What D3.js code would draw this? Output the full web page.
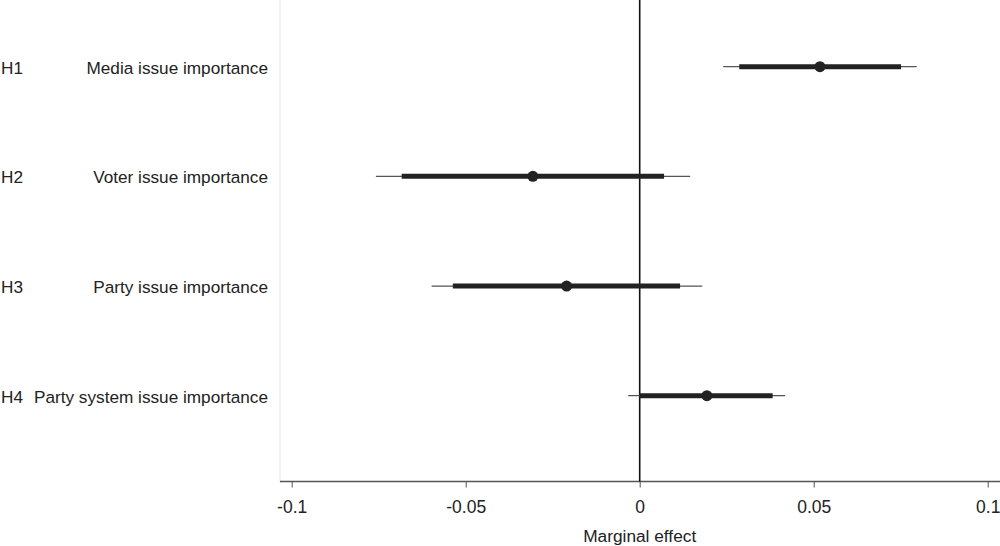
<!DOCTYPE html>
<html><head><meta charset="utf-8">
<script src="https://cdn.jsdelivr.net/npm/d3@7"></script>
<style>body{margin:0;background:#fff}svg{display:block}text{font-family:"Liberation Sans",Arial,sans-serif;fill:#222}</style>
</head><body><svg id="c" width="1000" height="546"></svg>
<script>
const hyp = ["H1","H2","H3","H4"];
const labels = ["Media issue importance","Voter issue importance","Party issue importance","Party system issue importance"];
const est = [0.0518,-0.0307,-0.0210,0.0193];
const ci90lo = [0.0286,-0.0684,-0.0537,0.0000];
const ci90hi = [0.0751,0.0070,0.0116,0.0382];
const ci95lo = [0.0240,-0.0758,-0.0598,-0.0033];
const ci95hi = [0.0796,0.0145,0.0180,0.0418];
const ticks = [-0.1,-0.05,0,0.05,0.1];
const tickLabels = ["-0.1","-0.05","0","0.05","0.1"];

const svg = d3.select("#c");
const x = d3.scaleLinear().domain([-0.1,0.1]).range([291.7,987.7]);
const y = d3.scalePoint().domain(hyp).range([66.7,395.7]);
const axisY = 481.5;

svg.append("line").attr("x1",280).attr("x2",280).attr("y1",0).attr("y2",axisY).attr("stroke","#eee").attr("stroke-width",1.5);

const ax = svg.append("g").attr("transform",`translate(0,${axisY})`)
  .call(d3.axisBottom(x).tickValues(ticks).tickFormat((d,i)=>tickLabels[i]).tickSize(6).tickSizeOuter(0));
ax.select(".domain").remove();
ax.append("line").attr("x1",280).attr("x2",1000).attr("stroke","#555").attr("stroke-width",1.3);
ax.selectAll(".tick line").attr("stroke","#555");
ax.selectAll(".tick text").attr("y",19).attr("font-size",17.5).attr("fill","#222").attr("font-family","Liberation Sans, Arial, sans-serif");

svg.append("text").attr("x",639.7).attr("y",542).attr("text-anchor","middle").attr("font-size",17.3).text("Marginal effect");

svg.append("line").attr("x1",x(0)).attr("x2",x(0)).attr("y1",0).attr("y2",axisY).attr("stroke","#111").attr("stroke-width",1.6);

const rows = svg.selectAll("g.row").data(hyp).enter().append("g").attr("class","row");
rows.append("line").attr("x1",(d,i)=>x(ci95lo[i])).attr("x2",(d,i)=>x(ci95hi[i])).attr("y1",d=>y(d)).attr("y2",d=>y(d)).attr("stroke","#555").attr("stroke-width",1.2);
rows.append("line").attr("x1",(d,i)=>x(ci90lo[i])).attr("x2",(d,i)=>x(ci90hi[i])).attr("y1",d=>y(d)).attr("y2",d=>y(d)).attr("stroke","#222").attr("stroke-width",5);
rows.append("circle").attr("cx",(d,i)=>x(est[i])).attr("cy",d=>y(d)).attr("r",5.5).attr("fill","#222");
rows.append("text").attr("x",1).attr("y",d=>y(d)+7).attr("font-size",17.2).text(d=>d);
rows.append("text").attr("x",268).attr("y",d=>y(d)+7).attr("font-size",17.2).attr("text-anchor","end").text((d,i)=>labels[i]);
</script></body></html>
